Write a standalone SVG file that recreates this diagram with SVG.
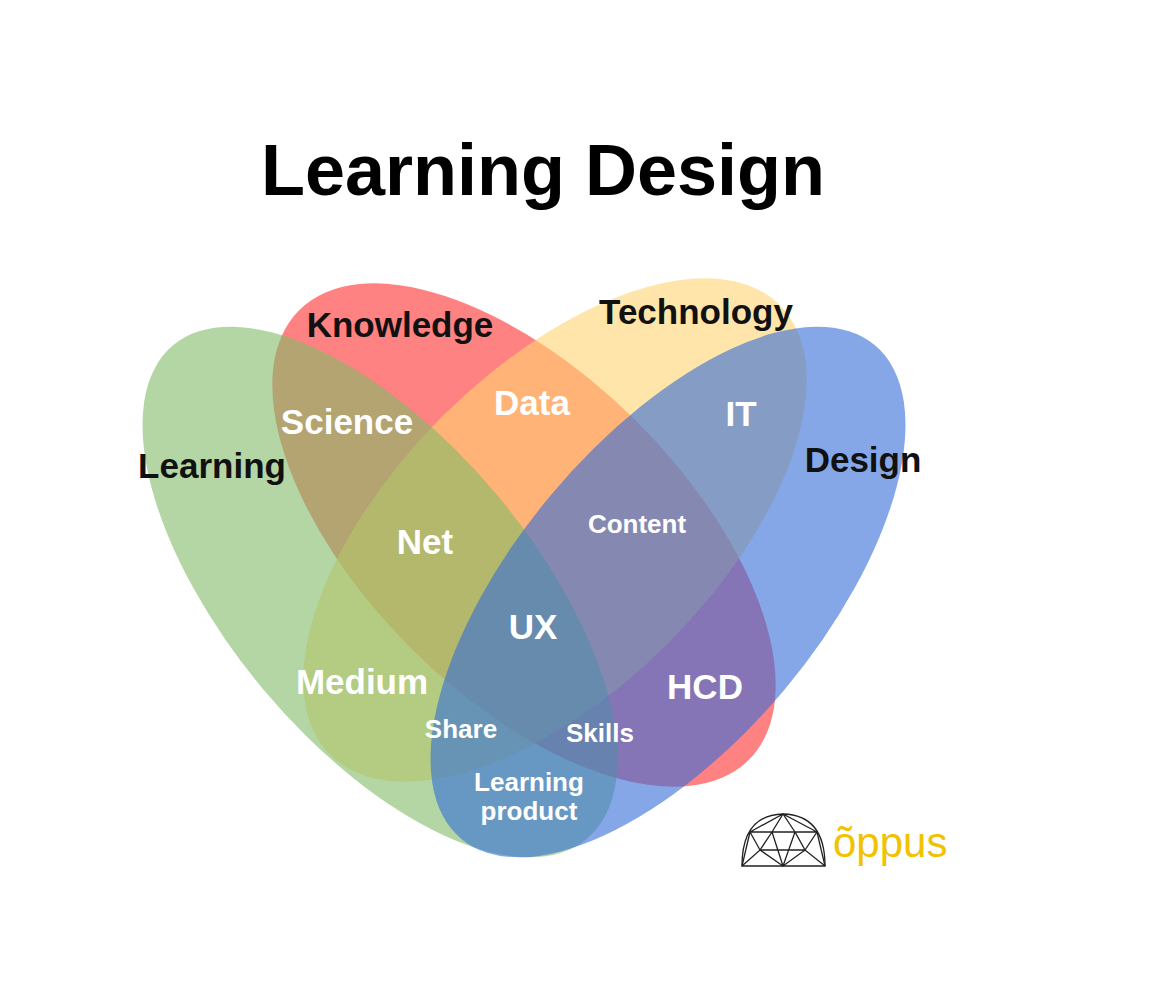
<svg xmlns="http://www.w3.org/2000/svg" width="1167" height="1006" viewBox="0 0 1167 1006">
<style>
.e{fill-opacity:0.6}
.b{font-family:"Liberation Sans",Arial,sans-serif;font-weight:bold;text-anchor:middle}
.k{fill:#111;font-size:35px}
.w{fill:#fff;font-size:35px}
.s{fill:#fff;font-size:26px}
.d{fill:none;stroke:#222;stroke-width:1.3}
</style>
<rect width="1167" height="1006" fill="#fff"/>
<text class="b" x="543" y="195" font-size="72" fill="#000">Learning Design</text>
<g id="sets">
<ellipse id="knowledge" class="e" cx="524" cy="535" rx="318" ry="160" transform="rotate(45 524 535)" fill="#FF2E2E"/>
<ellipse id="technology" class="e" cx="555" cy="530" rx="318" ry="160" transform="rotate(-45 555 530)" fill="#FFD470"/>
<ellipse id="learning" class="e" cx="380" cy="592" rx="322" ry="152" transform="rotate(50 380 592)" fill="#80BA68"/>
<ellipse id="design" class="e" cx="668" cy="592" rx="322" ry="152" transform="rotate(-50 668 592)" fill="#336CD8"/>
</g>
<g id="labels">
<text class="b k" x="400" y="337">Knowledge</text>
<text class="b k" x="696" y="324">Technology</text>
<text class="b k" x="212" y="478">Learning</text>
<text class="b k" x="863" y="472">Design</text>
<text class="b w" x="347" y="434">Science</text>
<text class="b w" x="532" y="415">Data</text>
<text class="b w" x="741" y="426">IT</text>
<text class="b w" x="425" y="554">Net</text>
<text class="b s" x="637" y="533">Content</text>
<text class="b w" x="533" y="639">UX</text>
<text class="b w" x="362" y="694">Medium</text>
<text class="b w" x="705" y="699">HCD</text>
<text class="b s" x="461" y="738">Share</text>
<text class="b s" x="600" y="742">Skills</text>
<text class="b s" x="529" y="791" font-size="25">Learning</text>
<text class="b s" x="529" y="820" font-size="25">product</text>
</g>
<g id="logo">
<path class="d" d="M742 866 Q742 815 783 814 Q825 815 825 866 Z"/>
<path class="d" d="M742 866 L760 850 L783 866 L805 850 L825 866 M760 850 L805 850 M760 850 L750 832 L772 832 L760 850 M772 832 L783 866 M772 832 L795 832 L805 850 L817 832 L795 832 M795 832 L783 814 L772 832 M750 832 L783 814 L817 832 M783 866 L795 832 M742 866 L750 832 M825 866 L817 832"/>
<text x="833" y="857" font-family="Liberation Sans,Arial,sans-serif" font-size="42" fill="#F2C200">õppus</text>
</g>
</svg>
